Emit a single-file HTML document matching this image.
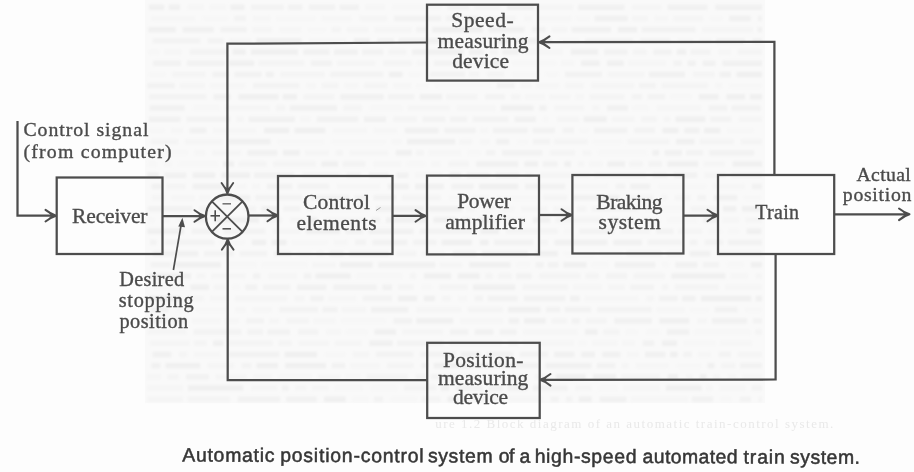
<!DOCTYPE html>
<html><head><meta charset="utf-8"><style>
html,body{margin:0;padding:0;background:#fdfdfd;width:914px;height:472px;overflow:hidden}
svg{position:absolute;left:0;top:0;display:block;filter:blur(0.6px)}
</style></head><body>
<svg width="914" height="472" viewBox="0 0 914 472">
<rect x="0" y="0" width="914" height="472" fill="#fdfdfd"/>
<rect x="145" y="0" width="620" height="403" fill="#f9f9f9"/>
<defs><filter id="bb" x="-5%" y="-5%" width="110%" height="110%"><feGaussianBlur stdDeviation="1.3"/></filter></defs><g filter="url(#bb)"><rect x="148.9" y="4.5" width="15.3" height="5.5" fill="rgb(240,240,240)"/><rect x="168.6" y="4.5" width="11.4" height="5.5" fill="rgb(240,240,240)"/><rect x="187.6" y="4.5" width="16.3" height="5.5" fill="rgb(246,246,246)"/><rect x="209.5" y="4.5" width="16.7" height="5.5" fill="rgb(246,246,246)"/><rect x="230.5" y="4.5" width="14.1" height="5.5" fill="rgb(240,240,240)"/><rect x="250.9" y="4.5" width="32.8" height="5.5" fill="rgb(243,243,243)"/><rect x="287.9" y="4.5" width="14.7" height="5.5" fill="rgb(242,242,242)"/><rect x="308.7" y="4.5" width="26.6" height="5.5" fill="rgb(242,242,242)"/><rect x="339.8" y="4.5" width="19.0" height="5.5" fill="rgb(241,241,241)"/><rect x="365.0" y="4.5" width="20.0" height="5.5" fill="rgb(246,246,246)"/><rect x="392.1" y="4.5" width="49.6" height="5.5" fill="rgb(247,247,247)"/><rect x="447.2" y="4.5" width="22.4" height="5.5" fill="rgb(243,243,243)"/><rect x="473.9" y="4.5" width="26.3" height="5.5" fill="rgb(245,245,245)"/><rect x="507.0" y="4.5" width="27.1" height="5.5" fill="rgb(241,241,241)"/><rect x="538.7" y="4.5" width="34.6" height="5.5" fill="rgb(245,245,245)"/><rect x="577.9" y="4.5" width="46.5" height="5.5" fill="rgb(241,241,241)"/><rect x="631.5" y="4.5" width="30.0" height="5.5" fill="rgb(245,245,245)"/><rect x="667.8" y="4.5" width="39.7" height="5.5" fill="rgb(241,241,241)"/><rect x="715.3" y="4.5" width="46.7" height="5.5" fill="rgb(241,241,241)"/><rect x="151.2" y="15.7" width="43.9" height="5.5" fill="rgb(246,246,246)"/><rect x="202.6" y="15.7" width="25.9" height="5.5" fill="rgb(247,247,247)"/><rect x="233.9" y="15.7" width="12.0" height="5.5" fill="rgb(243,243,243)"/><rect x="253.0" y="15.7" width="17.5" height="5.5" fill="rgb(246,246,246)"/><rect x="276.1" y="15.7" width="39.9" height="5.5" fill="rgb(247,247,247)"/><rect x="321.6" y="15.7" width="30.0" height="5.5" fill="rgb(246,246,246)"/><rect x="359.1" y="15.7" width="28.1" height="5.5" fill="rgb(245,245,245)"/><rect x="393.9" y="15.7" width="47.3" height="5.5" fill="rgb(242,242,242)"/><rect x="445.6" y="15.7" width="14.3" height="5.5" fill="rgb(243,243,243)"/><rect x="463.9" y="15.7" width="14.5" height="5.5" fill="rgb(240,240,240)"/><rect x="483.0" y="15.7" width="33.4" height="5.5" fill="rgb(245,245,245)"/><rect x="524.2" y="15.7" width="7.9" height="5.5" fill="rgb(246,246,246)"/><rect x="537.7" y="15.7" width="33.7" height="5.5" fill="rgb(246,246,246)"/><rect x="575.6" y="15.7" width="14.3" height="5.5" fill="rgb(247,247,247)"/><rect x="594.5" y="15.7" width="33.3" height="5.5" fill="rgb(241,241,241)"/><rect x="631.8" y="15.7" width="16.2" height="5.5" fill="rgb(245,245,245)"/><rect x="654.5" y="15.7" width="13.8" height="5.5" fill="rgb(246,246,246)"/><rect x="672.9" y="15.7" width="30.7" height="5.5" fill="rgb(245,245,245)"/><rect x="709.5" y="15.7" width="13.7" height="5.5" fill="rgb(247,247,247)"/><rect x="729.1" y="15.7" width="21.7" height="5.5" fill="rgb(241,241,241)"/><rect x="757.8" y="15.7" width="4.2" height="5.5" fill="rgb(242,242,242)"/><rect x="148.2" y="26.9" width="27.5" height="5.5" fill="rgb(240,240,240)"/><rect x="182.7" y="26.9" width="31.0" height="5.5" fill="rgb(241,241,241)"/><rect x="220.5" y="26.9" width="26.2" height="5.5" fill="rgb(242,242,242)"/><rect x="252.1" y="26.9" width="20.3" height="5.5" fill="rgb(245,245,245)"/><rect x="278.9" y="26.9" width="22.4" height="5.5" fill="rgb(246,246,246)"/><rect x="308.3" y="26.9" width="17.6" height="5.5" fill="rgb(247,247,247)"/><rect x="331.4" y="26.9" width="9.6" height="5.5" fill="rgb(244,244,244)"/><rect x="346.8" y="26.9" width="21.5" height="5.5" fill="rgb(245,245,245)"/><rect x="374.1" y="26.9" width="37.8" height="5.5" fill="rgb(245,245,245)"/><rect x="416.3" y="26.9" width="10.7" height="5.5" fill="rgb(243,243,243)"/><rect x="432.3" y="26.9" width="50.4" height="5.5" fill="rgb(240,240,240)"/><rect x="488.6" y="26.9" width="35.8" height="5.5" fill="rgb(241,241,241)"/><rect x="531.8" y="26.9" width="14.0" height="5.5" fill="rgb(243,243,243)"/><rect x="551.7" y="26.9" width="15.6" height="5.5" fill="rgb(245,245,245)"/><rect x="571.6" y="26.9" width="39.4" height="5.5" fill="rgb(241,241,241)"/><rect x="617.9" y="26.9" width="19.2" height="5.5" fill="rgb(240,240,240)"/><rect x="641.7" y="26.9" width="53.9" height="5.5" fill="rgb(242,242,242)"/><rect x="702.0" y="26.9" width="51.0" height="5.5" fill="rgb(245,245,245)"/><rect x="757.6" y="26.9" width="4.4" height="5.5" fill="rgb(241,241,241)"/><rect x="152.6" y="38.1" width="47.8" height="5.5" fill="rgb(243,243,243)"/><rect x="207.7" y="38.1" width="16.2" height="5.5" fill="rgb(243,243,243)"/><rect x="229.1" y="38.1" width="22.1" height="5.5" fill="rgb(245,245,245)"/><rect x="256.2" y="38.1" width="45.3" height="5.5" fill="rgb(240,240,240)"/><rect x="309.2" y="38.1" width="37.1" height="5.5" fill="rgb(246,246,246)"/><rect x="353.6" y="38.1" width="16.2" height="5.5" fill="rgb(240,240,240)"/><rect x="377.3" y="38.1" width="16.7" height="5.5" fill="rgb(242,242,242)"/><rect x="398.7" y="38.1" width="50.3" height="5.5" fill="rgb(241,241,241)"/><rect x="455.2" y="38.1" width="34.3" height="5.5" fill="rgb(247,247,247)"/><rect x="496.7" y="38.1" width="13.8" height="5.5" fill="rgb(240,240,240)"/><rect x="515.5" y="38.1" width="21.2" height="5.5" fill="rgb(241,241,241)"/><rect x="542.8" y="38.1" width="8.8" height="5.5" fill="rgb(241,241,241)"/><rect x="557.4" y="38.1" width="21.5" height="5.5" fill="rgb(247,247,247)"/><rect x="585.0" y="38.1" width="48.1" height="5.5" fill="rgb(243,243,243)"/><rect x="639.9" y="38.1" width="30.4" height="5.5" fill="rgb(243,243,243)"/><rect x="677.7" y="38.1" width="15.5" height="5.5" fill="rgb(246,246,246)"/><rect x="698.9" y="38.1" width="12.8" height="5.5" fill="rgb(246,246,246)"/><rect x="716.0" y="38.1" width="29.0" height="5.5" fill="rgb(242,242,242)"/><rect x="752.7" y="38.1" width="9.3" height="5.5" fill="rgb(242,242,242)"/><rect x="148.3" y="49.3" width="11.5" height="5.5" fill="rgb(247,247,247)"/><rect x="164.5" y="49.3" width="17.3" height="5.5" fill="rgb(246,246,246)"/><rect x="189.7" y="49.3" width="37.4" height="5.5" fill="rgb(243,243,243)"/><rect x="232.6" y="49.3" width="13.1" height="5.5" fill="rgb(240,240,240)"/><rect x="251.0" y="49.3" width="46.9" height="5.5" fill="rgb(240,240,240)"/><rect x="303.4" y="49.3" width="26.1" height="5.5" fill="rgb(241,241,241)"/><rect x="334.0" y="49.3" width="23.8" height="5.5" fill="rgb(241,241,241)"/><rect x="362.1" y="49.3" width="21.2" height="5.5" fill="rgb(242,242,242)"/><rect x="388.4" y="49.3" width="18.0" height="5.5" fill="rgb(244,244,244)"/><rect x="412.1" y="49.3" width="51.8" height="5.5" fill="rgb(241,241,241)"/><rect x="469.0" y="49.3" width="15.5" height="5.5" fill="rgb(241,241,241)"/><rect x="489.6" y="49.3" width="8.4" height="5.5" fill="rgb(244,244,244)"/><rect x="502.4" y="49.3" width="16.5" height="5.5" fill="rgb(241,241,241)"/><rect x="524.7" y="49.3" width="38.3" height="5.5" fill="rgb(246,246,246)"/><rect x="570.8" y="49.3" width="27.3" height="5.5" fill="rgb(240,240,240)"/><rect x="604.1" y="49.3" width="23.5" height="5.5" fill="rgb(242,242,242)"/><rect x="632.7" y="49.3" width="14.1" height="5.5" fill="rgb(244,244,244)"/><rect x="653.3" y="49.3" width="18.3" height="5.5" fill="rgb(242,242,242)"/><rect x="676.7" y="49.3" width="9.6" height="5.5" fill="rgb(240,240,240)"/><rect x="690.4" y="49.3" width="20.1" height="5.5" fill="rgb(243,243,243)"/><rect x="718.2" y="49.3" width="12.8" height="5.5" fill="rgb(246,246,246)"/><rect x="737.6" y="49.3" width="24.4" height="5.5" fill="rgb(244,244,244)"/><rect x="152.9" y="60.5" width="28.1" height="5.5" fill="rgb(242,242,242)"/><rect x="186.7" y="60.5" width="38.2" height="5.5" fill="rgb(242,242,242)"/><rect x="228.9" y="60.5" width="25.3" height="5.5" fill="rgb(240,240,240)"/><rect x="258.5" y="60.5" width="45.9" height="5.5" fill="rgb(244,244,244)"/><rect x="310.8" y="60.5" width="21.3" height="5.5" fill="rgb(242,242,242)"/><rect x="336.7" y="60.5" width="38.5" height="5.5" fill="rgb(245,245,245)"/><rect x="383.0" y="60.5" width="28.7" height="5.5" fill="rgb(244,244,244)"/><rect x="416.6" y="60.5" width="12.8" height="5.5" fill="rgb(246,246,246)"/><rect x="433.8" y="60.5" width="26.0" height="5.5" fill="rgb(243,243,243)"/><rect x="464.8" y="60.5" width="6.7" height="5.5" fill="rgb(241,241,241)"/><rect x="476.1" y="60.5" width="7.7" height="5.5" fill="rgb(244,244,244)"/><rect x="488.9" y="60.5" width="16.7" height="5.5" fill="rgb(242,242,242)"/><rect x="512.3" y="60.5" width="44.2" height="5.5" fill="rgb(247,247,247)"/><rect x="561.1" y="60.5" width="13.1" height="5.5" fill="rgb(246,246,246)"/><rect x="581.1" y="60.5" width="18.6" height="5.5" fill="rgb(240,240,240)"/><rect x="607.0" y="60.5" width="16.7" height="5.5" fill="rgb(240,240,240)"/><rect x="628.2" y="60.5" width="37.9" height="5.5" fill="rgb(246,246,246)"/><rect x="673.5" y="60.5" width="8.4" height="5.5" fill="rgb(243,243,243)"/><rect x="687.8" y="60.5" width="7.9" height="5.5" fill="rgb(241,241,241)"/><rect x="702.7" y="60.5" width="12.8" height="5.5" fill="rgb(241,241,241)"/><rect x="722.4" y="60.5" width="39.6" height="5.5" fill="rgb(241,241,241)"/><rect x="148.4" y="71.7" width="17.8" height="5.5" fill="rgb(247,247,247)"/><rect x="172.2" y="71.7" width="33.2" height="5.5" fill="rgb(244,244,244)"/><rect x="212.5" y="71.7" width="16.6" height="5.5" fill="rgb(242,242,242)"/><rect x="234.5" y="71.7" width="27.3" height="5.5" fill="rgb(242,242,242)"/><rect x="265.8" y="71.7" width="8.0" height="5.5" fill="rgb(241,241,241)"/><rect x="280.5" y="71.7" width="44.0" height="5.5" fill="rgb(244,244,244)"/><rect x="330.3" y="71.7" width="53.1" height="5.5" fill="rgb(243,243,243)"/><rect x="388.7" y="71.7" width="14.1" height="5.5" fill="rgb(240,240,240)"/><rect x="408.0" y="71.7" width="13.5" height="5.5" fill="rgb(247,247,247)"/><rect x="429.5" y="71.7" width="35.4" height="5.5" fill="rgb(243,243,243)"/><rect x="469.1" y="71.7" width="10.3" height="5.5" fill="rgb(244,244,244)"/><rect x="487.2" y="71.7" width="16.7" height="5.5" fill="rgb(244,244,244)"/><rect x="511.4" y="71.7" width="28.6" height="5.5" fill="rgb(247,247,247)"/><rect x="545.6" y="71.7" width="12.8" height="5.5" fill="rgb(247,247,247)"/><rect x="565.1" y="71.7" width="36.8" height="5.5" fill="rgb(242,242,242)"/><rect x="607.6" y="71.7" width="37.1" height="5.5" fill="rgb(245,245,245)"/><rect x="648.7" y="71.7" width="36.3" height="5.5" fill="rgb(241,241,241)"/><rect x="692.8" y="71.7" width="21.7" height="5.5" fill="rgb(244,244,244)"/><rect x="719.5" y="71.7" width="11.5" height="5.5" fill="rgb(241,241,241)"/><rect x="736.4" y="71.7" width="25.6" height="5.5" fill="rgb(240,240,240)"/><rect x="147.3" y="82.9" width="27.4" height="5.5" fill="rgb(242,242,242)"/><rect x="179.7" y="82.9" width="25.3" height="5.5" fill="rgb(245,245,245)"/><rect x="209.8" y="82.9" width="35.6" height="5.5" fill="rgb(246,246,246)"/><rect x="253.0" y="82.9" width="46.6" height="5.5" fill="rgb(243,243,243)"/><rect x="306.5" y="82.9" width="9.4" height="5.5" fill="rgb(246,246,246)"/><rect x="321.7" y="82.9" width="16.9" height="5.5" fill="rgb(244,244,244)"/><rect x="344.5" y="82.9" width="13.9" height="5.5" fill="rgb(246,246,246)"/><rect x="363.8" y="82.9" width="23.5" height="5.5" fill="rgb(244,244,244)"/><rect x="392.9" y="82.9" width="18.4" height="5.5" fill="rgb(246,246,246)"/><rect x="415.8" y="82.9" width="13.3" height="5.5" fill="rgb(247,247,247)"/><rect x="435.3" y="82.9" width="55.8" height="5.5" fill="rgb(247,247,247)"/><rect x="496.8" y="82.9" width="18.0" height="5.5" fill="rgb(242,242,242)"/><rect x="520.1" y="82.9" width="11.1" height="5.5" fill="rgb(245,245,245)"/><rect x="536.3" y="82.9" width="23.1" height="5.5" fill="rgb(246,246,246)"/><rect x="564.9" y="82.9" width="19.0" height="5.5" fill="rgb(245,245,245)"/><rect x="590.9" y="82.9" width="43.7" height="5.5" fill="rgb(245,245,245)"/><rect x="639.1" y="82.9" width="16.7" height="5.5" fill="rgb(243,243,243)"/><rect x="661.4" y="82.9" width="46.7" height="5.5" fill="rgb(244,244,244)"/><rect x="715.5" y="82.9" width="6.8" height="5.5" fill="rgb(246,246,246)"/><rect x="729.2" y="82.9" width="32.8" height="5.5" fill="rgb(247,247,247)"/><rect x="149.3" y="94.1" width="57.1" height="5.5" fill="rgb(243,243,243)"/><rect x="213.5" y="94.1" width="17.2" height="5.5" fill="rgb(241,241,241)"/><rect x="238.5" y="94.1" width="40.0" height="5.5" fill="rgb(240,240,240)"/><rect x="282.6" y="94.1" width="14.3" height="5.5" fill="rgb(240,240,240)"/><rect x="303.5" y="94.1" width="30.8" height="5.5" fill="rgb(244,244,244)"/><rect x="340.4" y="94.1" width="43.2" height="5.5" fill="rgb(241,241,241)"/><rect x="388.0" y="94.1" width="26.3" height="5.5" fill="rgb(243,243,243)"/><rect x="419.8" y="94.1" width="22.3" height="5.5" fill="rgb(240,240,240)"/><rect x="446.1" y="94.1" width="31.2" height="5.5" fill="rgb(244,244,244)"/><rect x="485.1" y="94.1" width="19.8" height="5.5" fill="rgb(243,243,243)"/><rect x="511.1" y="94.1" width="9.5" height="5.5" fill="rgb(244,244,244)"/><rect x="524.8" y="94.1" width="20.0" height="5.5" fill="rgb(246,246,246)"/><rect x="549.1" y="94.1" width="21.3" height="5.5" fill="rgb(245,245,245)"/><rect x="575.4" y="94.1" width="8.6" height="5.5" fill="rgb(246,246,246)"/><rect x="589.4" y="94.1" width="35.2" height="5.5" fill="rgb(244,244,244)"/><rect x="631.6" y="94.1" width="10.6" height="5.5" fill="rgb(243,243,243)"/><rect x="647.4" y="94.1" width="17.8" height="5.5" fill="rgb(243,243,243)"/><rect x="670.3" y="94.1" width="21.9" height="5.5" fill="rgb(247,247,247)"/><rect x="698.7" y="94.1" width="19.9" height="5.5" fill="rgb(240,240,240)"/><rect x="726.4" y="94.1" width="18.7" height="5.5" fill="rgb(240,240,240)"/><rect x="749.9" y="94.1" width="12.1" height="5.5" fill="rgb(240,240,240)"/><rect x="149.7" y="105.3" width="35.0" height="5.5" fill="rgb(241,241,241)"/><rect x="192.4" y="105.3" width="28.0" height="5.5" fill="rgb(247,247,247)"/><rect x="224.6" y="105.3" width="45.4" height="5.5" fill="rgb(245,245,245)"/><rect x="275.8" y="105.3" width="9.6" height="5.5" fill="rgb(244,244,244)"/><rect x="289.7" y="105.3" width="47.3" height="5.5" fill="rgb(241,241,241)"/><rect x="343.2" y="105.3" width="19.0" height="5.5" fill="rgb(244,244,244)"/><rect x="369.6" y="105.3" width="33.4" height="5.5" fill="rgb(247,247,247)"/><rect x="407.8" y="105.3" width="42.1" height="5.5" fill="rgb(245,245,245)"/><rect x="456.8" y="105.3" width="39.0" height="5.5" fill="rgb(246,246,246)"/><rect x="500.8" y="105.3" width="32.7" height="5.5" fill="rgb(240,240,240)"/><rect x="539.3" y="105.3" width="7.2" height="5.5" fill="rgb(241,241,241)"/><rect x="554.1" y="105.3" width="30.2" height="5.5" fill="rgb(245,245,245)"/><rect x="592.2" y="105.3" width="7.2" height="5.5" fill="rgb(245,245,245)"/><rect x="607.1" y="105.3" width="20.8" height="5.5" fill="rgb(241,241,241)"/><rect x="632.1" y="105.3" width="16.9" height="5.5" fill="rgb(247,247,247)"/><rect x="656.7" y="105.3" width="44.6" height="5.5" fill="rgb(246,246,246)"/><rect x="708.6" y="105.3" width="18.7" height="5.5" fill="rgb(242,242,242)"/><rect x="731.4" y="105.3" width="29.4" height="5.5" fill="rgb(242,242,242)"/><rect x="149.0" y="116.5" width="31.5" height="5.5" fill="rgb(241,241,241)"/><rect x="186.5" y="116.5" width="44.0" height="5.5" fill="rgb(243,243,243)"/><rect x="236.2" y="116.5" width="7.9" height="5.5" fill="rgb(245,245,245)"/><rect x="248.8" y="116.5" width="46.1" height="5.5" fill="rgb(241,241,241)"/><rect x="300.0" y="116.5" width="10.6" height="5.5" fill="rgb(246,246,246)"/><rect x="316.6" y="116.5" width="41.7" height="5.5" fill="rgb(242,242,242)"/><rect x="364.0" y="116.5" width="22.0" height="5.5" fill="rgb(241,241,241)"/><rect x="393.1" y="116.5" width="23.9" height="5.5" fill="rgb(244,244,244)"/><rect x="422.4" y="116.5" width="22.9" height="5.5" fill="rgb(243,243,243)"/><rect x="450.0" y="116.5" width="17.2" height="5.5" fill="rgb(243,243,243)"/><rect x="472.6" y="116.5" width="36.0" height="5.5" fill="rgb(243,243,243)"/><rect x="514.6" y="116.5" width="21.2" height="5.5" fill="rgb(241,241,241)"/><rect x="542.4" y="116.5" width="6.7" height="5.5" fill="rgb(247,247,247)"/><rect x="556.7" y="116.5" width="22.7" height="5.5" fill="rgb(245,245,245)"/><rect x="583.6" y="116.5" width="23.2" height="5.5" fill="rgb(240,240,240)"/><rect x="611.5" y="116.5" width="23.4" height="5.5" fill="rgb(245,245,245)"/><rect x="641.0" y="116.5" width="15.7" height="5.5" fill="rgb(244,244,244)"/><rect x="663.8" y="116.5" width="6.7" height="5.5" fill="rgb(245,245,245)"/><rect x="675.4" y="116.5" width="30.0" height="5.5" fill="rgb(240,240,240)"/><rect x="710.2" y="116.5" width="21.2" height="5.5" fill="rgb(243,243,243)"/><rect x="738.6" y="116.5" width="23.4" height="5.5" fill="rgb(245,245,245)"/><rect x="148.9" y="127.7" width="16.3" height="5.5" fill="rgb(247,247,247)"/><rect x="171.3" y="127.7" width="11.6" height="5.5" fill="rgb(246,246,246)"/><rect x="189.5" y="127.7" width="16.9" height="5.5" fill="rgb(241,241,241)"/><rect x="213.0" y="127.7" width="43.1" height="5.5" fill="rgb(246,246,246)"/><rect x="264.1" y="127.7" width="25.1" height="5.5" fill="rgb(240,240,240)"/><rect x="294.5" y="127.7" width="30.9" height="5.5" fill="rgb(240,240,240)"/><rect x="332.9" y="127.7" width="33.8" height="5.5" fill="rgb(246,246,246)"/><rect x="373.6" y="127.7" width="23.5" height="5.5" fill="rgb(246,246,246)"/><rect x="404.8" y="127.7" width="33.8" height="5.5" fill="rgb(241,241,241)"/><rect x="444.2" y="127.7" width="31.5" height="5.5" fill="rgb(242,242,242)"/><rect x="480.2" y="127.7" width="8.2" height="5.5" fill="rgb(246,246,246)"/><rect x="492.8" y="127.7" width="35.0" height="5.5" fill="rgb(242,242,242)"/><rect x="532.4" y="127.7" width="22.5" height="5.5" fill="rgb(242,242,242)"/><rect x="562.6" y="127.7" width="11.4" height="5.5" fill="rgb(243,243,243)"/><rect x="579.2" y="127.7" width="9.5" height="5.5" fill="rgb(247,247,247)"/><rect x="594.0" y="127.7" width="33.4" height="5.5" fill="rgb(242,242,242)"/><rect x="633.9" y="127.7" width="21.0" height="5.5" fill="rgb(243,243,243)"/><rect x="662.2" y="127.7" width="16.4" height="5.5" fill="rgb(240,240,240)"/><rect x="684.2" y="127.7" width="15.3" height="5.5" fill="rgb(241,241,241)"/><rect x="704.1" y="127.7" width="16.3" height="5.5" fill="rgb(240,240,240)"/><rect x="727.1" y="127.7" width="27.1" height="5.5" fill="rgb(247,247,247)"/><rect x="150.8" y="138.9" width="27.5" height="5.5" fill="rgb(244,244,244)"/><rect x="184.6" y="138.9" width="38.2" height="5.5" fill="rgb(245,245,245)"/><rect x="228.7" y="138.9" width="41.8" height="5.5" fill="rgb(240,240,240)"/><rect x="277.0" y="138.9" width="47.3" height="5.5" fill="rgb(247,247,247)"/><rect x="331.4" y="138.9" width="54.5" height="5.5" fill="rgb(247,247,247)"/><rect x="391.4" y="138.9" width="10.2" height="5.5" fill="rgb(246,246,246)"/><rect x="407.1" y="138.9" width="48.1" height="5.5" fill="rgb(240,240,240)"/><rect x="459.3" y="138.9" width="13.3" height="5.5" fill="rgb(245,245,245)"/><rect x="479.8" y="138.9" width="9.9" height="5.5" fill="rgb(246,246,246)"/><rect x="496.2" y="138.9" width="13.0" height="5.5" fill="rgb(241,241,241)"/><rect x="517.2" y="138.9" width="10.5" height="5.5" fill="rgb(247,247,247)"/><rect x="532.9" y="138.9" width="17.2" height="5.5" fill="rgb(243,243,243)"/><rect x="554.3" y="138.9" width="33.4" height="5.5" fill="rgb(244,244,244)"/><rect x="592.4" y="138.9" width="30.2" height="5.5" fill="rgb(247,247,247)"/><rect x="627.2" y="138.9" width="42.4" height="5.5" fill="rgb(244,244,244)"/><rect x="676.0" y="138.9" width="18.6" height="5.5" fill="rgb(240,240,240)"/><rect x="699.4" y="138.9" width="34.6" height="5.5" fill="rgb(244,244,244)"/><rect x="740.7" y="138.9" width="21.3" height="5.5" fill="rgb(244,244,244)"/><rect x="150.2" y="150.1" width="38.0" height="5.5" fill="rgb(247,247,247)"/><rect x="194.4" y="150.1" width="10.8" height="5.5" fill="rgb(246,246,246)"/><rect x="212.1" y="150.1" width="29.0" height="5.5" fill="rgb(245,245,245)"/><rect x="247.4" y="150.1" width="29.8" height="5.5" fill="rgb(241,241,241)"/><rect x="283.0" y="150.1" width="16.7" height="5.5" fill="rgb(240,240,240)"/><rect x="305.0" y="150.1" width="24.0" height="5.5" fill="rgb(245,245,245)"/><rect x="335.9" y="150.1" width="7.1" height="5.5" fill="rgb(244,244,244)"/><rect x="349.5" y="150.1" width="38.7" height="5.5" fill="rgb(245,245,245)"/><rect x="395.8" y="150.1" width="15.9" height="5.5" fill="rgb(240,240,240)"/><rect x="415.8" y="150.1" width="8.2" height="5.5" fill="rgb(244,244,244)"/><rect x="428.4" y="150.1" width="32.4" height="5.5" fill="rgb(246,246,246)"/><rect x="467.2" y="150.1" width="14.1" height="5.5" fill="rgb(247,247,247)"/><rect x="485.9" y="150.1" width="9.4" height="5.5" fill="rgb(243,243,243)"/><rect x="502.1" y="150.1" width="40.2" height="5.5" fill="rgb(242,242,242)"/><rect x="549.9" y="150.1" width="25.0" height="5.5" fill="rgb(244,244,244)"/><rect x="582.7" y="150.1" width="8.5" height="5.5" fill="rgb(245,245,245)"/><rect x="597.6" y="150.1" width="50.0" height="5.5" fill="rgb(247,247,247)"/><rect x="652.5" y="150.1" width="6.5" height="5.5" fill="rgb(240,240,240)"/><rect x="664.7" y="150.1" width="17.3" height="5.5" fill="rgb(241,241,241)"/><rect x="686.0" y="150.1" width="17.1" height="5.5" fill="rgb(243,243,243)"/><rect x="709.2" y="150.1" width="45.0" height="5.5" fill="rgb(242,242,242)"/><rect x="147.4" y="161.3" width="9.6" height="5.5" fill="rgb(247,247,247)"/><rect x="163.8" y="161.3" width="7.6" height="5.5" fill="rgb(246,246,246)"/><rect x="178.4" y="161.3" width="39.9" height="5.5" fill="rgb(247,247,247)"/><rect x="223.1" y="161.3" width="10.9" height="5.5" fill="rgb(240,240,240)"/><rect x="238.4" y="161.3" width="28.2" height="5.5" fill="rgb(244,244,244)"/><rect x="273.1" y="161.3" width="43.0" height="5.5" fill="rgb(244,244,244)"/><rect x="321.3" y="161.3" width="16.7" height="5.5" fill="rgb(240,240,240)"/><rect x="342.7" y="161.3" width="22.7" height="5.5" fill="rgb(243,243,243)"/><rect x="373.2" y="161.3" width="28.1" height="5.5" fill="rgb(246,246,246)"/><rect x="406.5" y="161.3" width="19.0" height="5.5" fill="rgb(247,247,247)"/><rect x="431.5" y="161.3" width="9.1" height="5.5" fill="rgb(246,246,246)"/><rect x="448.4" y="161.3" width="20.6" height="5.5" fill="rgb(244,244,244)"/><rect x="476.2" y="161.3" width="42.0" height="5.5" fill="rgb(241,241,241)"/><rect x="524.4" y="161.3" width="13.7" height="5.5" fill="rgb(240,240,240)"/><rect x="542.6" y="161.3" width="15.0" height="5.5" fill="rgb(242,242,242)"/><rect x="564.4" y="161.3" width="6.5" height="5.5" fill="rgb(240,240,240)"/><rect x="577.7" y="161.3" width="6.6" height="5.5" fill="rgb(245,245,245)"/><rect x="589.1" y="161.3" width="13.8" height="5.5" fill="rgb(246,246,246)"/><rect x="607.3" y="161.3" width="17.6" height="5.5" fill="rgb(240,240,240)"/><rect x="629.1" y="161.3" width="13.6" height="5.5" fill="rgb(244,244,244)"/><rect x="648.6" y="161.3" width="13.4" height="5.5" fill="rgb(243,243,243)"/><rect x="667.2" y="161.3" width="31.0" height="5.5" fill="rgb(240,240,240)"/><rect x="703.6" y="161.3" width="21.3" height="5.5" fill="rgb(245,245,245)"/><rect x="732.6" y="161.3" width="29.4" height="5.5" fill="rgb(240,240,240)"/><rect x="147.2" y="172.5" width="11.3" height="5.5" fill="rgb(240,240,240)"/><rect x="164.6" y="172.5" width="21.7" height="5.5" fill="rgb(241,241,241)"/><rect x="192.6" y="172.5" width="22.6" height="5.5" fill="rgb(240,240,240)"/><rect x="221.3" y="172.5" width="28.7" height="5.5" fill="rgb(240,240,240)"/><rect x="254.0" y="172.5" width="40.2" height="5.5" fill="rgb(242,242,242)"/><rect x="302.1" y="172.5" width="37.9" height="5.5" fill="rgb(244,244,244)"/><rect x="346.3" y="172.5" width="14.6" height="5.5" fill="rgb(243,243,243)"/><rect x="368.7" y="172.5" width="20.0" height="5.5" fill="rgb(241,241,241)"/><rect x="396.4" y="172.5" width="12.0" height="5.5" fill="rgb(241,241,241)"/><rect x="414.9" y="172.5" width="26.8" height="5.5" fill="rgb(246,246,246)"/><rect x="449.3" y="172.5" width="11.6" height="5.5" fill="rgb(240,240,240)"/><rect x="466.4" y="172.5" width="23.5" height="5.5" fill="rgb(242,242,242)"/><rect x="495.4" y="172.5" width="23.6" height="5.5" fill="rgb(242,242,242)"/><rect x="525.1" y="172.5" width="7.5" height="5.5" fill="rgb(245,245,245)"/><rect x="538.7" y="172.5" width="51.1" height="5.5" fill="rgb(245,245,245)"/><rect x="594.5" y="172.5" width="51.6" height="5.5" fill="rgb(244,244,244)"/><rect x="652.4" y="172.5" width="14.9" height="5.5" fill="rgb(243,243,243)"/><rect x="673.4" y="172.5" width="23.9" height="5.5" fill="rgb(242,242,242)"/><rect x="704.2" y="172.5" width="21.8" height="5.5" fill="rgb(245,245,245)"/><rect x="730.7" y="172.5" width="31.3" height="5.5" fill="rgb(244,244,244)"/><rect x="151.4" y="183.7" width="10.4" height="5.5" fill="rgb(241,241,241)"/><rect x="166.5" y="183.7" width="19.1" height="5.5" fill="rgb(244,244,244)"/><rect x="192.6" y="183.7" width="36.4" height="5.5" fill="rgb(241,241,241)"/><rect x="235.5" y="183.7" width="10.9" height="5.5" fill="rgb(246,246,246)"/><rect x="252.3" y="183.7" width="7.7" height="5.5" fill="rgb(246,246,246)"/><rect x="266.8" y="183.7" width="25.6" height="5.5" fill="rgb(242,242,242)"/><rect x="297.4" y="183.7" width="32.1" height="5.5" fill="rgb(243,243,243)"/><rect x="337.1" y="183.7" width="43.2" height="5.5" fill="rgb(246,246,246)"/><rect x="387.7" y="183.7" width="21.4" height="5.5" fill="rgb(241,241,241)"/><rect x="415.0" y="183.7" width="28.9" height="5.5" fill="rgb(241,241,241)"/><rect x="451.5" y="183.7" width="22.3" height="5.5" fill="rgb(242,242,242)"/><rect x="478.7" y="183.7" width="39.7" height="5.5" fill="rgb(240,240,240)"/><rect x="525.0" y="183.7" width="40.3" height="5.5" fill="rgb(242,242,242)"/><rect x="572.8" y="183.7" width="35.6" height="5.5" fill="rgb(246,246,246)"/><rect x="615.7" y="183.7" width="9.8" height="5.5" fill="rgb(243,243,243)"/><rect x="630.1" y="183.7" width="20.2" height="5.5" fill="rgb(241,241,241)"/><rect x="657.7" y="183.7" width="48.8" height="5.5" fill="rgb(247,247,247)"/><rect x="712.5" y="183.7" width="32.3" height="5.5" fill="rgb(246,246,246)"/><rect x="751.8" y="183.7" width="10.2" height="5.5" fill="rgb(242,242,242)"/><rect x="151.6" y="194.9" width="13.1" height="5.5" fill="rgb(245,245,245)"/><rect x="171.2" y="194.9" width="23.7" height="5.5" fill="rgb(246,246,246)"/><rect x="199.1" y="194.9" width="11.6" height="5.5" fill="rgb(246,246,246)"/><rect x="217.2" y="194.9" width="33.0" height="5.5" fill="rgb(241,241,241)"/><rect x="255.2" y="194.9" width="47.0" height="5.5" fill="rgb(243,243,243)"/><rect x="310.2" y="194.9" width="39.4" height="5.5" fill="rgb(242,242,242)"/><rect x="354.1" y="194.9" width="13.5" height="5.5" fill="rgb(243,243,243)"/><rect x="373.5" y="194.9" width="22.5" height="5.5" fill="rgb(242,242,242)"/><rect x="401.4" y="194.9" width="39.5" height="5.5" fill="rgb(244,244,244)"/><rect x="447.9" y="194.9" width="17.8" height="5.5" fill="rgb(247,247,247)"/><rect x="471.1" y="194.9" width="18.1" height="5.5" fill="rgb(246,246,246)"/><rect x="496.0" y="194.9" width="42.9" height="5.5" fill="rgb(247,247,247)"/><rect x="542.9" y="194.9" width="24.5" height="5.5" fill="rgb(244,244,244)"/><rect x="572.7" y="194.9" width="46.6" height="5.5" fill="rgb(241,241,241)"/><rect x="626.0" y="194.9" width="27.6" height="5.5" fill="rgb(244,244,244)"/><rect x="660.9" y="194.9" width="6.7" height="5.5" fill="rgb(245,245,245)"/><rect x="674.7" y="194.9" width="16.2" height="5.5" fill="rgb(245,245,245)"/><rect x="697.5" y="194.9" width="8.5" height="5.5" fill="rgb(243,243,243)"/><rect x="713.8" y="194.9" width="23.4" height="5.5" fill="rgb(241,241,241)"/><rect x="743.5" y="194.9" width="17.5" height="5.5" fill="rgb(247,247,247)"/><rect x="147.9" y="206.1" width="44.7" height="5.5" fill="rgb(242,242,242)"/><rect x="199.0" y="206.1" width="12.8" height="5.5" fill="rgb(244,244,244)"/><rect x="216.6" y="206.1" width="20.2" height="5.5" fill="rgb(247,247,247)"/><rect x="243.6" y="206.1" width="12.3" height="5.5" fill="rgb(244,244,244)"/><rect x="261.5" y="206.1" width="15.8" height="5.5" fill="rgb(240,240,240)"/><rect x="283.3" y="206.1" width="17.3" height="5.5" fill="rgb(243,243,243)"/><rect x="306.5" y="206.1" width="6.9" height="5.5" fill="rgb(245,245,245)"/><rect x="319.3" y="206.1" width="51.2" height="5.5" fill="rgb(247,247,247)"/><rect x="376.0" y="206.1" width="48.0" height="5.5" fill="rgb(241,241,241)"/><rect x="428.7" y="206.1" width="33.7" height="5.5" fill="rgb(240,240,240)"/><rect x="466.5" y="206.1" width="8.6" height="5.5" fill="rgb(245,245,245)"/><rect x="482.4" y="206.1" width="12.1" height="5.5" fill="rgb(247,247,247)"/><rect x="501.4" y="206.1" width="13.0" height="5.5" fill="rgb(246,246,246)"/><rect x="521.0" y="206.1" width="26.8" height="5.5" fill="rgb(245,245,245)"/><rect x="553.1" y="206.1" width="18.3" height="5.5" fill="rgb(245,245,245)"/><rect x="577.1" y="206.1" width="9.0" height="5.5" fill="rgb(244,244,244)"/><rect x="591.6" y="206.1" width="46.2" height="5.5" fill="rgb(244,244,244)"/><rect x="645.2" y="206.1" width="38.1" height="5.5" fill="rgb(247,247,247)"/><rect x="690.4" y="206.1" width="28.1" height="5.5" fill="rgb(244,244,244)"/><rect x="723.0" y="206.1" width="13.4" height="5.5" fill="rgb(240,240,240)"/><rect x="742.0" y="206.1" width="20.0" height="5.5" fill="rgb(240,240,240)"/><rect x="147.7" y="217.3" width="7.0" height="5.5" fill="rgb(247,247,247)"/><rect x="161.1" y="217.3" width="8.9" height="5.5" fill="rgb(246,246,246)"/><rect x="176.5" y="217.3" width="10.6" height="5.5" fill="rgb(247,247,247)"/><rect x="193.6" y="217.3" width="13.4" height="5.5" fill="rgb(242,242,242)"/><rect x="214.5" y="217.3" width="44.4" height="5.5" fill="rgb(240,240,240)"/><rect x="264.4" y="217.3" width="17.8" height="5.5" fill="rgb(244,244,244)"/><rect x="289.7" y="217.3" width="15.5" height="5.5" fill="rgb(245,245,245)"/><rect x="309.3" y="217.3" width="8.0" height="5.5" fill="rgb(240,240,240)"/><rect x="324.6" y="217.3" width="41.2" height="5.5" fill="rgb(246,246,246)"/><rect x="371.5" y="217.3" width="8.6" height="5.5" fill="rgb(242,242,242)"/><rect x="386.0" y="217.3" width="40.8" height="5.5" fill="rgb(241,241,241)"/><rect x="433.4" y="217.3" width="23.2" height="5.5" fill="rgb(240,240,240)"/><rect x="462.3" y="217.3" width="8.6" height="5.5" fill="rgb(241,241,241)"/><rect x="478.8" y="217.3" width="10.6" height="5.5" fill="rgb(241,241,241)"/><rect x="494.0" y="217.3" width="7.3" height="5.5" fill="rgb(243,243,243)"/><rect x="507.0" y="217.3" width="18.7" height="5.5" fill="rgb(245,245,245)"/><rect x="532.8" y="217.3" width="17.5" height="5.5" fill="rgb(241,241,241)"/><rect x="555.5" y="217.3" width="47.2" height="5.5" fill="rgb(244,244,244)"/><rect x="610.4" y="217.3" width="8.7" height="5.5" fill="rgb(240,240,240)"/><rect x="623.3" y="217.3" width="11.5" height="5.5" fill="rgb(244,244,244)"/><rect x="641.7" y="217.3" width="18.9" height="5.5" fill="rgb(247,247,247)"/><rect x="667.1" y="217.3" width="30.3" height="5.5" fill="rgb(247,247,247)"/><rect x="703.3" y="217.3" width="13.7" height="5.5" fill="rgb(241,241,241)"/><rect x="722.4" y="217.3" width="16.8" height="5.5" fill="rgb(246,246,246)"/><rect x="745.2" y="217.3" width="16.8" height="5.5" fill="rgb(245,245,245)"/><rect x="147.4" y="228.5" width="36.7" height="5.5" fill="rgb(240,240,240)"/><rect x="191.4" y="228.5" width="26.9" height="5.5" fill="rgb(243,243,243)"/><rect x="223.8" y="228.5" width="41.6" height="5.5" fill="rgb(243,243,243)"/><rect x="272.7" y="228.5" width="28.0" height="5.5" fill="rgb(245,245,245)"/><rect x="305.7" y="228.5" width="34.5" height="5.5" fill="rgb(240,240,240)"/><rect x="345.3" y="228.5" width="18.0" height="5.5" fill="rgb(242,242,242)"/><rect x="368.4" y="228.5" width="45.1" height="5.5" fill="rgb(241,241,241)"/><rect x="419.7" y="228.5" width="53.7" height="5.5" fill="rgb(243,243,243)"/><rect x="480.5" y="228.5" width="18.5" height="5.5" fill="rgb(240,240,240)"/><rect x="505.7" y="228.5" width="52.0" height="5.5" fill="rgb(244,244,244)"/><rect x="564.1" y="228.5" width="8.9" height="5.5" fill="rgb(247,247,247)"/><rect x="579.1" y="228.5" width="35.5" height="5.5" fill="rgb(243,243,243)"/><rect x="620.2" y="228.5" width="30.0" height="5.5" fill="rgb(245,245,245)"/><rect x="656.1" y="228.5" width="17.5" height="5.5" fill="rgb(243,243,243)"/><rect x="678.0" y="228.5" width="24.6" height="5.5" fill="rgb(245,245,245)"/><rect x="708.2" y="228.5" width="14.4" height="5.5" fill="rgb(247,247,247)"/><rect x="728.1" y="228.5" width="11.4" height="5.5" fill="rgb(247,247,247)"/><rect x="746.6" y="228.5" width="14.8" height="5.5" fill="rgb(240,240,240)"/><rect x="150.1" y="239.7" width="6.7" height="5.5" fill="rgb(243,243,243)"/><rect x="164.8" y="239.7" width="49.7" height="5.5" fill="rgb(243,243,243)"/><rect x="219.5" y="239.7" width="25.2" height="5.5" fill="rgb(247,247,247)"/><rect x="251.8" y="239.7" width="14.4" height="5.5" fill="rgb(240,240,240)"/><rect x="271.6" y="239.7" width="15.2" height="5.5" fill="rgb(240,240,240)"/><rect x="291.0" y="239.7" width="36.7" height="5.5" fill="rgb(247,247,247)"/><rect x="333.7" y="239.7" width="13.7" height="5.5" fill="rgb(246,246,246)"/><rect x="355.1" y="239.7" width="10.8" height="5.5" fill="rgb(243,243,243)"/><rect x="372.5" y="239.7" width="34.9" height="5.5" fill="rgb(242,242,242)"/><rect x="412.9" y="239.7" width="23.9" height="5.5" fill="rgb(243,243,243)"/><rect x="441.5" y="239.7" width="30.6" height="5.5" fill="rgb(240,240,240)"/><rect x="479.7" y="239.7" width="9.1" height="5.5" fill="rgb(240,240,240)"/><rect x="493.9" y="239.7" width="39.5" height="5.5" fill="rgb(242,242,242)"/><rect x="538.6" y="239.7" width="9.4" height="5.5" fill="rgb(244,244,244)"/><rect x="554.4" y="239.7" width="53.0" height="5.5" fill="rgb(241,241,241)"/><rect x="613.2" y="239.7" width="28.9" height="5.5" fill="rgb(241,241,241)"/><rect x="647.6" y="239.7" width="34.7" height="5.5" fill="rgb(243,243,243)"/><rect x="689.5" y="239.7" width="7.9" height="5.5" fill="rgb(243,243,243)"/><rect x="704.6" y="239.7" width="18.7" height="5.5" fill="rgb(243,243,243)"/><rect x="727.7" y="239.7" width="34.3" height="5.5" fill="rgb(242,242,242)"/><rect x="152.7" y="250.9" width="45.5" height="5.5" fill="rgb(241,241,241)"/><rect x="204.0" y="250.9" width="29.7" height="5.5" fill="rgb(243,243,243)"/><rect x="239.7" y="250.9" width="27.4" height="5.5" fill="rgb(243,243,243)"/><rect x="274.0" y="250.9" width="17.4" height="5.5" fill="rgb(242,242,242)"/><rect x="297.2" y="250.9" width="14.5" height="5.5" fill="rgb(246,246,246)"/><rect x="316.7" y="250.9" width="7.3" height="5.5" fill="rgb(244,244,244)"/><rect x="329.3" y="250.9" width="14.5" height="5.5" fill="rgb(241,241,241)"/><rect x="349.0" y="250.9" width="40.6" height="5.5" fill="rgb(240,240,240)"/><rect x="396.1" y="250.9" width="20.5" height="5.5" fill="rgb(244,244,244)"/><rect x="421.1" y="250.9" width="23.8" height="5.5" fill="rgb(246,246,246)"/><rect x="452.8" y="250.9" width="23.4" height="5.5" fill="rgb(241,241,241)"/><rect x="481.8" y="250.9" width="46.3" height="5.5" fill="rgb(240,240,240)"/><rect x="535.4" y="250.9" width="22.3" height="5.5" fill="rgb(240,240,240)"/><rect x="563.5" y="250.9" width="32.1" height="5.5" fill="rgb(247,247,247)"/><rect x="599.7" y="250.9" width="22.7" height="5.5" fill="rgb(246,246,246)"/><rect x="626.5" y="250.9" width="35.5" height="5.5" fill="rgb(242,242,242)"/><rect x="666.6" y="250.9" width="16.1" height="5.5" fill="rgb(243,243,243)"/><rect x="689.6" y="250.9" width="20.8" height="5.5" fill="rgb(241,241,241)"/><rect x="717.9" y="250.9" width="44.1" height="5.5" fill="rgb(242,242,242)"/><rect x="150.7" y="262.1" width="20.7" height="5.5" fill="rgb(243,243,243)"/><rect x="175.4" y="262.1" width="45.5" height="5.5" fill="rgb(240,240,240)"/><rect x="226.9" y="262.1" width="29.9" height="5.5" fill="rgb(247,247,247)"/><rect x="261.2" y="262.1" width="46.6" height="5.5" fill="rgb(247,247,247)"/><rect x="312.3" y="262.1" width="23.4" height="5.5" fill="rgb(245,245,245)"/><rect x="339.8" y="262.1" width="33.0" height="5.5" fill="rgb(240,240,240)"/><rect x="378.2" y="262.1" width="57.0" height="5.5" fill="rgb(241,241,241)"/><rect x="439.7" y="262.1" width="22.5" height="5.5" fill="rgb(245,245,245)"/><rect x="469.3" y="262.1" width="41.2" height="5.5" fill="rgb(240,240,240)"/><rect x="515.7" y="262.1" width="14.2" height="5.5" fill="rgb(247,247,247)"/><rect x="535.7" y="262.1" width="8.1" height="5.5" fill="rgb(242,242,242)"/><rect x="547.8" y="262.1" width="10.7" height="5.5" fill="rgb(242,242,242)"/><rect x="563.2" y="262.1" width="23.4" height="5.5" fill="rgb(240,240,240)"/><rect x="590.7" y="262.1" width="18.1" height="5.5" fill="rgb(247,247,247)"/><rect x="614.8" y="262.1" width="40.4" height="5.5" fill="rgb(241,241,241)"/><rect x="662.1" y="262.1" width="7.3" height="5.5" fill="rgb(247,247,247)"/><rect x="675.3" y="262.1" width="21.9" height="5.5" fill="rgb(241,241,241)"/><rect x="702.9" y="262.1" width="16.3" height="5.5" fill="rgb(243,243,243)"/><rect x="726.6" y="262.1" width="17.1" height="5.5" fill="rgb(247,247,247)"/><rect x="750.7" y="262.1" width="11.3" height="5.5" fill="rgb(240,240,240)"/><rect x="149.3" y="273.3" width="41.6" height="5.5" fill="rgb(240,240,240)"/><rect x="196.5" y="273.3" width="8.9" height="5.5" fill="rgb(245,245,245)"/><rect x="211.0" y="273.3" width="34.8" height="5.5" fill="rgb(245,245,245)"/><rect x="253.0" y="273.3" width="7.4" height="5.5" fill="rgb(242,242,242)"/><rect x="268.2" y="273.3" width="28.8" height="5.5" fill="rgb(246,246,246)"/><rect x="303.7" y="273.3" width="7.6" height="5.5" fill="rgb(242,242,242)"/><rect x="315.5" y="273.3" width="35.2" height="5.5" fill="rgb(240,240,240)"/><rect x="355.6" y="273.3" width="47.5" height="5.5" fill="rgb(247,247,247)"/><rect x="409.7" y="273.3" width="6.5" height="5.5" fill="rgb(244,244,244)"/><rect x="423.9" y="273.3" width="27.3" height="5.5" fill="rgb(240,240,240)"/><rect x="457.7" y="273.3" width="22.1" height="5.5" fill="rgb(240,240,240)"/><rect x="485.5" y="273.3" width="7.3" height="5.5" fill="rgb(244,244,244)"/><rect x="498.2" y="273.3" width="13.6" height="5.5" fill="rgb(244,244,244)"/><rect x="516.1" y="273.3" width="15.6" height="5.5" fill="rgb(242,242,242)"/><rect x="539.3" y="273.3" width="41.2" height="5.5" fill="rgb(244,244,244)"/><rect x="585.5" y="273.3" width="13.2" height="5.5" fill="rgb(244,244,244)"/><rect x="606.0" y="273.3" width="21.2" height="5.5" fill="rgb(243,243,243)"/><rect x="633.4" y="273.3" width="31.5" height="5.5" fill="rgb(244,244,244)"/><rect x="671.3" y="273.3" width="54.1" height="5.5" fill="rgb(240,240,240)"/><rect x="730.4" y="273.3" width="17.5" height="5.5" fill="rgb(246,246,246)"/><rect x="755.8" y="273.3" width="6.2" height="5.5" fill="rgb(245,245,245)"/><rect x="152.7" y="284.5" width="32.7" height="5.5" fill="rgb(247,247,247)"/><rect x="190.5" y="284.5" width="18.4" height="5.5" fill="rgb(240,240,240)"/><rect x="213.5" y="284.5" width="12.5" height="5.5" fill="rgb(245,245,245)"/><rect x="231.8" y="284.5" width="8.1" height="5.5" fill="rgb(247,247,247)"/><rect x="245.3" y="284.5" width="12.1" height="5.5" fill="rgb(242,242,242)"/><rect x="263.0" y="284.5" width="27.4" height="5.5" fill="rgb(243,243,243)"/><rect x="296.9" y="284.5" width="29.3" height="5.5" fill="rgb(241,241,241)"/><rect x="333.2" y="284.5" width="43.6" height="5.5" fill="rgb(242,242,242)"/><rect x="382.4" y="284.5" width="9.6" height="5.5" fill="rgb(241,241,241)"/><rect x="398.0" y="284.5" width="15.5" height="5.5" fill="rgb(244,244,244)"/><rect x="421.0" y="284.5" width="11.4" height="5.5" fill="rgb(247,247,247)"/><rect x="439.2" y="284.5" width="28.3" height="5.5" fill="rgb(244,244,244)"/><rect x="472.9" y="284.5" width="42.4" height="5.5" fill="rgb(240,240,240)"/><rect x="522.4" y="284.5" width="45.7" height="5.5" fill="rgb(244,244,244)"/><rect x="572.9" y="284.5" width="29.2" height="5.5" fill="rgb(246,246,246)"/><rect x="608.3" y="284.5" width="16.7" height="5.5" fill="rgb(245,245,245)"/><rect x="630.3" y="284.5" width="23.7" height="5.5" fill="rgb(243,243,243)"/><rect x="661.9" y="284.5" width="6.5" height="5.5" fill="rgb(244,244,244)"/><rect x="674.6" y="284.5" width="44.2" height="5.5" fill="rgb(244,244,244)"/><rect x="724.9" y="284.5" width="37.1" height="5.5" fill="rgb(246,246,246)"/><rect x="149.1" y="295.7" width="31.4" height="5.5" fill="rgb(240,240,240)"/><rect x="187.3" y="295.7" width="16.8" height="5.5" fill="rgb(245,245,245)"/><rect x="210.0" y="295.7" width="18.4" height="5.5" fill="rgb(246,246,246)"/><rect x="234.4" y="295.7" width="53.1" height="5.5" fill="rgb(245,245,245)"/><rect x="294.3" y="295.7" width="10.4" height="5.5" fill="rgb(245,245,245)"/><rect x="310.2" y="295.7" width="13.6" height="5.5" fill="rgb(242,242,242)"/><rect x="328.2" y="295.7" width="28.0" height="5.5" fill="rgb(246,246,246)"/><rect x="362.7" y="295.7" width="29.3" height="5.5" fill="rgb(243,243,243)"/><rect x="398.0" y="295.7" width="19.3" height="5.5" fill="rgb(240,240,240)"/><rect x="423.8" y="295.7" width="11.3" height="5.5" fill="rgb(240,240,240)"/><rect x="441.9" y="295.7" width="8.9" height="5.5" fill="rgb(244,244,244)"/><rect x="457.7" y="295.7" width="9.3" height="5.5" fill="rgb(246,246,246)"/><rect x="474.4" y="295.7" width="8.5" height="5.5" fill="rgb(243,243,243)"/><rect x="487.6" y="295.7" width="29.9" height="5.5" fill="rgb(242,242,242)"/><rect x="523.8" y="295.7" width="41.6" height="5.5" fill="rgb(242,242,242)"/><rect x="570.0" y="295.7" width="9.7" height="5.5" fill="rgb(241,241,241)"/><rect x="584.4" y="295.7" width="54.2" height="5.5" fill="rgb(246,246,246)"/><rect x="645.9" y="295.7" width="8.5" height="5.5" fill="rgb(245,245,245)"/><rect x="658.9" y="295.7" width="18.8" height="5.5" fill="rgb(242,242,242)"/><rect x="681.9" y="295.7" width="13.7" height="5.5" fill="rgb(241,241,241)"/><rect x="701.0" y="295.7" width="50.4" height="5.5" fill="rgb(240,240,240)"/><rect x="755.6" y="295.7" width="6.4" height="5.5" fill="rgb(240,240,240)"/><rect x="150.7" y="306.9" width="17.8" height="5.5" fill="rgb(242,242,242)"/><rect x="176.2" y="306.9" width="14.8" height="5.5" fill="rgb(247,247,247)"/><rect x="196.3" y="306.9" width="30.8" height="5.5" fill="rgb(247,247,247)"/><rect x="235.0" y="306.9" width="10.8" height="5.5" fill="rgb(246,246,246)"/><rect x="252.4" y="306.9" width="19.3" height="5.5" fill="rgb(246,246,246)"/><rect x="279.2" y="306.9" width="38.8" height="5.5" fill="rgb(243,243,243)"/><rect x="322.4" y="306.9" width="15.1" height="5.5" fill="rgb(242,242,242)"/><rect x="341.5" y="306.9" width="24.9" height="5.5" fill="rgb(245,245,245)"/><rect x="370.9" y="306.9" width="37.4" height="5.5" fill="rgb(241,241,241)"/><rect x="416.1" y="306.9" width="45.2" height="5.5" fill="rgb(245,245,245)"/><rect x="467.6" y="306.9" width="35.1" height="5.5" fill="rgb(244,244,244)"/><rect x="508.0" y="306.9" width="32.6" height="5.5" fill="rgb(240,240,240)"/><rect x="545.9" y="306.9" width="14.3" height="5.5" fill="rgb(242,242,242)"/><rect x="564.6" y="306.9" width="26.5" height="5.5" fill="rgb(242,242,242)"/><rect x="597.3" y="306.9" width="54.5" height="5.5" fill="rgb(243,243,243)"/><rect x="656.4" y="306.9" width="28.4" height="5.5" fill="rgb(246,246,246)"/><rect x="690.3" y="306.9" width="18.4" height="5.5" fill="rgb(247,247,247)"/><rect x="714.7" y="306.9" width="22.9" height="5.5" fill="rgb(242,242,242)"/><rect x="745.3" y="306.9" width="16.7" height="5.5" fill="rgb(247,247,247)"/><rect x="149.2" y="318.1" width="19.2" height="5.5" fill="rgb(243,243,243)"/><rect x="172.9" y="318.1" width="12.9" height="5.5" fill="rgb(241,241,241)"/><rect x="192.0" y="318.1" width="28.5" height="5.5" fill="rgb(246,246,246)"/><rect x="224.5" y="318.1" width="14.8" height="5.5" fill="rgb(246,246,246)"/><rect x="246.2" y="318.1" width="17.8" height="5.5" fill="rgb(243,243,243)"/><rect x="269.2" y="318.1" width="9.9" height="5.5" fill="rgb(245,245,245)"/><rect x="286.4" y="318.1" width="22.8" height="5.5" fill="rgb(244,244,244)"/><rect x="313.5" y="318.1" width="22.1" height="5.5" fill="rgb(246,246,246)"/><rect x="340.8" y="318.1" width="45.5" height="5.5" fill="rgb(247,247,247)"/><rect x="393.4" y="318.1" width="18.8" height="5.5" fill="rgb(242,242,242)"/><rect x="416.3" y="318.1" width="37.1" height="5.5" fill="rgb(240,240,240)"/><rect x="460.0" y="318.1" width="43.2" height="5.5" fill="rgb(246,246,246)"/><rect x="508.6" y="318.1" width="10.5" height="5.5" fill="rgb(241,241,241)"/><rect x="524.1" y="318.1" width="21.7" height="5.5" fill="rgb(240,240,240)"/><rect x="551.5" y="318.1" width="15.6" height="5.5" fill="rgb(244,244,244)"/><rect x="571.6" y="318.1" width="8.2" height="5.5" fill="rgb(242,242,242)"/><rect x="586.1" y="318.1" width="20.6" height="5.5" fill="rgb(244,244,244)"/><rect x="614.3" y="318.1" width="37.6" height="5.5" fill="rgb(241,241,241)"/><rect x="659.2" y="318.1" width="30.2" height="5.5" fill="rgb(240,240,240)"/><rect x="697.3" y="318.1" width="9.8" height="5.5" fill="rgb(245,245,245)"/><rect x="711.9" y="318.1" width="35.2" height="5.5" fill="rgb(241,241,241)"/><rect x="752.8" y="318.1" width="9.2" height="5.5" fill="rgb(243,243,243)"/><rect x="147.5" y="329.3" width="39.1" height="5.5" fill="rgb(245,245,245)"/><rect x="193.4" y="329.3" width="48.2" height="5.5" fill="rgb(243,243,243)"/><rect x="247.3" y="329.3" width="15.9" height="5.5" fill="rgb(243,243,243)"/><rect x="267.4" y="329.3" width="22.6" height="5.5" fill="rgb(242,242,242)"/><rect x="297.9" y="329.3" width="20.4" height="5.5" fill="rgb(243,243,243)"/><rect x="326.1" y="329.3" width="15.1" height="5.5" fill="rgb(246,246,246)"/><rect x="345.5" y="329.3" width="22.2" height="5.5" fill="rgb(247,247,247)"/><rect x="374.4" y="329.3" width="21.6" height="5.5" fill="rgb(240,240,240)"/><rect x="402.1" y="329.3" width="41.0" height="5.5" fill="rgb(245,245,245)"/><rect x="449.9" y="329.3" width="18.5" height="5.5" fill="rgb(242,242,242)"/><rect x="474.7" y="329.3" width="18.7" height="5.5" fill="rgb(241,241,241)"/><rect x="499.6" y="329.3" width="17.1" height="5.5" fill="rgb(242,242,242)"/><rect x="523.1" y="329.3" width="54.5" height="5.5" fill="rgb(246,246,246)"/><rect x="584.9" y="329.3" width="12.9" height="5.5" fill="rgb(240,240,240)"/><rect x="603.3" y="329.3" width="16.3" height="5.5" fill="rgb(244,244,244)"/><rect x="624.9" y="329.3" width="13.0" height="5.5" fill="rgb(247,247,247)"/><rect x="645.7" y="329.3" width="14.9" height="5.5" fill="rgb(247,247,247)"/><rect x="666.8" y="329.3" width="22.5" height="5.5" fill="rgb(241,241,241)"/><rect x="693.6" y="329.3" width="57.4" height="5.5" fill="rgb(247,247,247)"/><rect x="755.3" y="329.3" width="6.7" height="5.5" fill="rgb(244,244,244)"/><rect x="149.9" y="340.5" width="39.8" height="5.5" fill="rgb(245,245,245)"/><rect x="193.8" y="340.5" width="12.7" height="5.5" fill="rgb(244,244,244)"/><rect x="213.1" y="340.5" width="10.3" height="5.5" fill="rgb(240,240,240)"/><rect x="227.5" y="340.5" width="45.4" height="5.5" fill="rgb(244,244,244)"/><rect x="278.4" y="340.5" width="13.5" height="5.5" fill="rgb(244,244,244)"/><rect x="298.8" y="340.5" width="30.5" height="5.5" fill="rgb(245,245,245)"/><rect x="334.5" y="340.5" width="27.3" height="5.5" fill="rgb(245,245,245)"/><rect x="369.2" y="340.5" width="23.3" height="5.5" fill="rgb(240,240,240)"/><rect x="396.9" y="340.5" width="46.5" height="5.5" fill="rgb(243,243,243)"/><rect x="449.4" y="340.5" width="52.4" height="5.5" fill="rgb(244,244,244)"/><rect x="508.2" y="340.5" width="10.3" height="5.5" fill="rgb(243,243,243)"/><rect x="523.2" y="340.5" width="50.6" height="5.5" fill="rgb(246,246,246)"/><rect x="578.2" y="340.5" width="9.1" height="5.5" fill="rgb(247,247,247)"/><rect x="592.0" y="340.5" width="25.6" height="5.5" fill="rgb(246,246,246)"/><rect x="622.2" y="340.5" width="12.8" height="5.5" fill="rgb(246,246,246)"/><rect x="642.6" y="340.5" width="11.7" height="5.5" fill="rgb(242,242,242)"/><rect x="661.9" y="340.5" width="15.2" height="5.5" fill="rgb(240,240,240)"/><rect x="682.9" y="340.5" width="32.9" height="5.5" fill="rgb(247,247,247)"/><rect x="720.1" y="340.5" width="32.2" height="5.5" fill="rgb(246,246,246)"/><rect x="152.5" y="351.7" width="19.0" height="5.5" fill="rgb(241,241,241)"/><rect x="178.7" y="351.7" width="8.7" height="5.5" fill="rgb(245,245,245)"/><rect x="193.9" y="351.7" width="26.7" height="5.5" fill="rgb(246,246,246)"/><rect x="228.4" y="351.7" width="51.0" height="5.5" fill="rgb(242,242,242)"/><rect x="284.6" y="351.7" width="32.4" height="5.5" fill="rgb(240,240,240)"/><rect x="324.4" y="351.7" width="21.4" height="5.5" fill="rgb(247,247,247)"/><rect x="352.5" y="351.7" width="17.0" height="5.5" fill="rgb(245,245,245)"/><rect x="375.8" y="351.7" width="37.8" height="5.5" fill="rgb(243,243,243)"/><rect x="419.8" y="351.7" width="36.2" height="5.5" fill="rgb(243,243,243)"/><rect x="460.7" y="351.7" width="20.4" height="5.5" fill="rgb(241,241,241)"/><rect x="486.0" y="351.7" width="27.6" height="5.5" fill="rgb(243,243,243)"/><rect x="519.7" y="351.7" width="28.2" height="5.5" fill="rgb(243,243,243)"/><rect x="554.1" y="351.7" width="20.3" height="5.5" fill="rgb(241,241,241)"/><rect x="581.3" y="351.7" width="13.7" height="5.5" fill="rgb(241,241,241)"/><rect x="602.2" y="351.7" width="18.3" height="5.5" fill="rgb(241,241,241)"/><rect x="627.0" y="351.7" width="11.8" height="5.5" fill="rgb(246,246,246)"/><rect x="645.0" y="351.7" width="20.5" height="5.5" fill="rgb(241,241,241)"/><rect x="670.1" y="351.7" width="7.7" height="5.5" fill="rgb(240,240,240)"/><rect x="683.3" y="351.7" width="8.6" height="5.5" fill="rgb(243,243,243)"/><rect x="697.8" y="351.7" width="13.0" height="5.5" fill="rgb(246,246,246)"/><rect x="718.4" y="351.7" width="12.6" height="5.5" fill="rgb(243,243,243)"/><rect x="737.2" y="351.7" width="24.8" height="5.5" fill="rgb(245,245,245)"/><rect x="151.4" y="362.9" width="9.0" height="5.5" fill="rgb(241,241,241)"/><rect x="165.4" y="362.9" width="34.8" height="5.5" fill="rgb(240,240,240)"/><rect x="207.5" y="362.9" width="26.9" height="5.5" fill="rgb(245,245,245)"/><rect x="241.6" y="362.9" width="9.8" height="5.5" fill="rgb(243,243,243)"/><rect x="256.4" y="362.9" width="21.6" height="5.5" fill="rgb(240,240,240)"/><rect x="285.3" y="362.9" width="40.6" height="5.5" fill="rgb(240,240,240)"/><rect x="331.8" y="362.9" width="13.4" height="5.5" fill="rgb(242,242,242)"/><rect x="349.9" y="362.9" width="29.9" height="5.5" fill="rgb(246,246,246)"/><rect x="387.1" y="362.9" width="26.4" height="5.5" fill="rgb(244,244,244)"/><rect x="421.3" y="362.9" width="6.5" height="5.5" fill="rgb(242,242,242)"/><rect x="433.7" y="362.9" width="55.2" height="5.5" fill="rgb(240,240,240)"/><rect x="493.2" y="362.9" width="45.5" height="5.5" fill="rgb(242,242,242)"/><rect x="545.4" y="362.9" width="46.0" height="5.5" fill="rgb(241,241,241)"/><rect x="596.8" y="362.9" width="18.5" height="5.5" fill="rgb(242,242,242)"/><rect x="621.7" y="362.9" width="7.1" height="5.5" fill="rgb(245,245,245)"/><rect x="635.7" y="362.9" width="33.0" height="5.5" fill="rgb(246,246,246)"/><rect x="676.4" y="362.9" width="25.7" height="5.5" fill="rgb(247,247,247)"/><rect x="707.4" y="362.9" width="7.2" height="5.5" fill="rgb(240,240,240)"/><rect x="721.1" y="362.9" width="14.5" height="5.5" fill="rgb(244,244,244)"/><rect x="739.9" y="362.9" width="22.1" height="5.5" fill="rgb(242,242,242)"/><rect x="147.2" y="374.1" width="13.8" height="5.5" fill="rgb(246,246,246)"/><rect x="167.5" y="374.1" width="11.3" height="5.5" fill="rgb(244,244,244)"/><rect x="186.0" y="374.1" width="23.0" height="5.5" fill="rgb(242,242,242)"/><rect x="215.7" y="374.1" width="30.8" height="5.5" fill="rgb(245,245,245)"/><rect x="253.5" y="374.1" width="18.8" height="5.5" fill="rgb(246,246,246)"/><rect x="277.7" y="374.1" width="34.2" height="5.5" fill="rgb(247,247,247)"/><rect x="317.9" y="374.1" width="22.5" height="5.5" fill="rgb(245,245,245)"/><rect x="345.0" y="374.1" width="16.1" height="5.5" fill="rgb(247,247,247)"/><rect x="366.6" y="374.1" width="41.1" height="5.5" fill="rgb(244,244,244)"/><rect x="415.4" y="374.1" width="10.3" height="5.5" fill="rgb(244,244,244)"/><rect x="430.7" y="374.1" width="26.5" height="5.5" fill="rgb(243,243,243)"/><rect x="463.6" y="374.1" width="12.4" height="5.5" fill="rgb(244,244,244)"/><rect x="482.3" y="374.1" width="45.3" height="5.5" fill="rgb(246,246,246)"/><rect x="534.5" y="374.1" width="13.6" height="5.5" fill="rgb(245,245,245)"/><rect x="555.7" y="374.1" width="30.1" height="5.5" fill="rgb(240,240,240)"/><rect x="592.9" y="374.1" width="23.3" height="5.5" fill="rgb(240,240,240)"/><rect x="621.0" y="374.1" width="39.2" height="5.5" fill="rgb(244,244,244)"/><rect x="667.6" y="374.1" width="10.5" height="5.5" fill="rgb(240,240,240)"/><rect x="686.0" y="374.1" width="6.7" height="5.5" fill="rgb(245,245,245)"/><rect x="699.6" y="374.1" width="7.0" height="5.5" fill="rgb(240,240,240)"/><rect x="713.1" y="374.1" width="7.1" height="5.5" fill="rgb(245,245,245)"/><rect x="727.7" y="374.1" width="8.5" height="5.5" fill="rgb(246,246,246)"/><rect x="742.6" y="374.1" width="19.4" height="5.5" fill="rgb(246,246,246)"/><rect x="147.5" y="385.3" width="35.5" height="5.5" fill="rgb(246,246,246)"/><rect x="188.1" y="385.3" width="55.2" height="5.5" fill="rgb(240,240,240)"/><rect x="251.0" y="385.3" width="26.3" height="5.5" fill="rgb(245,245,245)"/><rect x="281.9" y="385.3" width="6.9" height="5.5" fill="rgb(242,242,242)"/><rect x="294.9" y="385.3" width="11.3" height="5.5" fill="rgb(245,245,245)"/><rect x="311.9" y="385.3" width="17.0" height="5.5" fill="rgb(245,245,245)"/><rect x="333.9" y="385.3" width="29.3" height="5.5" fill="rgb(247,247,247)"/><rect x="370.2" y="385.3" width="27.6" height="5.5" fill="rgb(247,247,247)"/><rect x="404.0" y="385.3" width="32.3" height="5.5" fill="rgb(244,244,244)"/><rect x="440.8" y="385.3" width="8.2" height="5.5" fill="rgb(241,241,241)"/><rect x="455.6" y="385.3" width="27.5" height="5.5" fill="rgb(243,243,243)"/><rect x="488.7" y="385.3" width="14.1" height="5.5" fill="rgb(242,242,242)"/><rect x="507.3" y="385.3" width="20.4" height="5.5" fill="rgb(242,242,242)"/><rect x="532.8" y="385.3" width="35.0" height="5.5" fill="rgb(242,242,242)"/><rect x="575.3" y="385.3" width="16.2" height="5.5" fill="rgb(245,245,245)"/><rect x="598.6" y="385.3" width="19.5" height="5.5" fill="rgb(247,247,247)"/><rect x="623.0" y="385.3" width="37.1" height="5.5" fill="rgb(246,246,246)"/><rect x="666.0" y="385.3" width="35.7" height="5.5" fill="rgb(240,240,240)"/><rect x="706.1" y="385.3" width="6.6" height="5.5" fill="rgb(246,246,246)"/><rect x="719.4" y="385.3" width="26.4" height="5.5" fill="rgb(246,246,246)"/><rect x="751.4" y="385.3" width="10.6" height="5.5" fill="rgb(243,243,243)"/><rect x="147.1" y="396.5" width="35.9" height="5.5" fill="rgb(245,245,245)"/><rect x="187.8" y="396.5" width="42.3" height="5.5" fill="rgb(244,244,244)"/><rect x="237.6" y="396.5" width="42.6" height="5.5" fill="rgb(242,242,242)"/><rect x="286.1" y="396.5" width="30.7" height="5.5" fill="rgb(242,242,242)"/><rect x="324.1" y="396.5" width="21.7" height="5.5" fill="rgb(240,240,240)"/><rect x="351.8" y="396.5" width="17.3" height="5.5" fill="rgb(247,247,247)"/><rect x="373.9" y="396.5" width="9.2" height="5.5" fill="rgb(243,243,243)"/><rect x="390.5" y="396.5" width="26.2" height="5.5" fill="rgb(247,247,247)"/><rect x="421.4" y="396.5" width="19.2" height="5.5" fill="rgb(244,244,244)"/><rect x="447.4" y="396.5" width="10.3" height="5.5" fill="rgb(240,240,240)"/><rect x="462.2" y="396.5" width="22.4" height="5.5" fill="rgb(245,245,245)"/><rect x="489.0" y="396.5" width="15.8" height="5.5" fill="rgb(246,246,246)"/><rect x="509.1" y="396.5" width="33.8" height="5.5" fill="rgb(246,246,246)"/><rect x="550.5" y="396.5" width="8.3" height="5.5" fill="rgb(243,243,243)"/><rect x="565.9" y="396.5" width="6.5" height="5.5" fill="rgb(243,243,243)"/><rect x="578.7" y="396.5" width="13.1" height="5.5" fill="rgb(240,240,240)"/><rect x="599.8" y="396.5" width="26.4" height="5.5" fill="rgb(241,241,241)"/><rect x="630.7" y="396.5" width="57.0" height="5.5" fill="rgb(246,246,246)"/><rect x="691.7" y="396.5" width="21.5" height="5.5" fill="rgb(242,242,242)"/><rect x="719.7" y="396.5" width="12.1" height="5.5" fill="rgb(247,247,247)"/><rect x="739.7" y="396.5" width="11.3" height="5.5" fill="rgb(243,243,243)"/><rect x="758.4" y="396.5" width="3.6" height="5.5" fill="rgb(244,244,244)"/></g>
<polyline points="17.5,121 17.5,215.7 55,215.7" fill="none" stroke="#4d4d4d" stroke-width="2.25" stroke-linejoin="miter"/><path transform="translate(56,215.7) rotate(0)" d="M-10.5,-5.8 Q-5,-1.5 0,0 Q-5,1.5 -10.5,5.8" fill="none" stroke="#4d4d4d" stroke-width="2" stroke-linejoin="round" stroke-linecap="round"/><path transform="translate(56,215.7) rotate(0)" d="M0.5,0 L-7,-2.6 L-5,0 L-7,2.6Z" fill="#4d4d4d"/><rect x="56.7" y="177.5" width="105.80" height="76.50" fill="none" stroke="#4d4d4d" stroke-width="2.25"/><polyline points="162.5,216 204,216" fill="none" stroke="#4d4d4d" stroke-width="2.25" stroke-linejoin="miter"/><path transform="translate(205,216) rotate(0)" d="M-10.5,-5.8 Q-5,-1.5 0,0 Q-5,1.5 -10.5,5.8" fill="none" stroke="#4d4d4d" stroke-width="2" stroke-linejoin="round" stroke-linecap="round"/><path transform="translate(205,216) rotate(0)" d="M0.5,0 L-7,-2.6 L-5,0 L-7,2.6Z" fill="#4d4d4d"/><line x1="173.4" y1="270" x2="181.6" y2="222" stroke="#4d4d4d" stroke-width="1.7"/><path d="M182.4,217.8 L178.3,226.5 L185,227.3Z" fill="#4d4d4d"/><line x1="376" y1="210.5" x2="380.5" y2="207.5" stroke="#999" stroke-width="1"/><ellipse cx="227.2" cy="216.6" rx="21.3" ry="22.1" fill="none" stroke="#4d4d4d" stroke-width="2.3"/><line x1="212.14" y1="201.54" x2="242.26" y2="231.66" stroke="#4d4d4d" stroke-width="1.8"/><line x1="212.14" y1="231.66" x2="242.26" y2="201.54" stroke="#4d4d4d" stroke-width="1.8"/><line x1="210.5" y1="215.8" x2="220" y2="215.8" stroke="#4d4d4d" stroke-width="1.6"/><line x1="215.2" y1="210.3" x2="215.2" y2="221.3" stroke="#4d4d4d" stroke-width="1.6"/><line x1="222.5" y1="203.8" x2="231" y2="203.8" stroke="#777" stroke-width="1.6"/><line x1="222.5" y1="228.8" x2="231" y2="228.8" stroke="#555" stroke-width="1.6"/><polyline points="249,215.5 277,215.5" fill="none" stroke="#4d4d4d" stroke-width="2.25" stroke-linejoin="miter"/><path transform="translate(278,215.5) rotate(0)" d="M-10.5,-5.8 Q-5,-1.5 0,0 Q-5,1.5 -10.5,5.8" fill="none" stroke="#4d4d4d" stroke-width="2" stroke-linejoin="round" stroke-linecap="round"/><path transform="translate(278,215.5) rotate(0)" d="M0.5,0 L-7,-2.6 L-5,0 L-7,2.6Z" fill="#4d4d4d"/><rect x="278" y="176" width="114.50" height="78.00" fill="none" stroke="#4d4d4d" stroke-width="2.25"/><polyline points="392.5,215.9 425,215.9" fill="none" stroke="#4d4d4d" stroke-width="2.25" stroke-linejoin="miter"/><path transform="translate(426,215.9) rotate(0)" d="M-10.5,-5.8 Q-5,-1.5 0,0 Q-5,1.5 -10.5,5.8" fill="none" stroke="#4d4d4d" stroke-width="2" stroke-linejoin="round" stroke-linecap="round"/><path transform="translate(426,215.9) rotate(0)" d="M0.5,0 L-7,-2.6 L-5,0 L-7,2.6Z" fill="#4d4d4d"/><rect x="427" y="175.6" width="112.00" height="78.80" fill="none" stroke="#4d4d4d" stroke-width="2.25"/><polyline points="539,215 571,215" fill="none" stroke="#4d4d4d" stroke-width="2.25" stroke-linejoin="miter"/><path transform="translate(572,215) rotate(0)" d="M-10.5,-5.8 Q-5,-1.5 0,0 Q-5,1.5 -10.5,5.8" fill="none" stroke="#4d4d4d" stroke-width="2" stroke-linejoin="round" stroke-linecap="round"/><path transform="translate(572,215) rotate(0)" d="M0.5,0 L-7,-2.6 L-5,0 L-7,2.6Z" fill="#4d4d4d"/><rect x="572.4" y="175" width="111.00" height="78.50" fill="none" stroke="#4d4d4d" stroke-width="2.25"/><polyline points="683.4,215.5 717,215.5" fill="none" stroke="#4d4d4d" stroke-width="2.25" stroke-linejoin="miter"/><path transform="translate(718,215.5) rotate(0)" d="M-10.5,-5.8 Q-5,-1.5 0,0 Q-5,1.5 -10.5,5.8" fill="none" stroke="#4d4d4d" stroke-width="2" stroke-linejoin="round" stroke-linecap="round"/><path transform="translate(718,215.5) rotate(0)" d="M0.5,0 L-7,-2.6 L-5,0 L-7,2.6Z" fill="#4d4d4d"/><rect x="718" y="175" width="116.20" height="79.00" fill="none" stroke="#4d4d4d" stroke-width="2.25"/><polyline points="834.2,214.3 908,214.3" fill="none" stroke="#4d4d4d" stroke-width="2.25" stroke-linejoin="miter"/><path transform="translate(909.5,214.3) rotate(0)" d="M-10.5,-5.8 Q-5,-1.5 0,0 Q-5,1.5 -10.5,5.8" fill="none" stroke="#4d4d4d" stroke-width="2" stroke-linejoin="round" stroke-linecap="round"/><path transform="translate(909.5,214.3) rotate(0)" d="M0.5,0 L-7,-2.6 L-5,0 L-7,2.6Z" fill="#4d4d4d"/><polyline points="774.4,175 774.4,41.9 540,42.2" fill="none" stroke="#4d4d4d" stroke-width="2.25" stroke-linejoin="miter"/><path transform="translate(539,42.2) rotate(180)" d="M-10.5,-5.8 Q-5,-1.5 0,0 Q-5,1.5 -10.5,5.8" fill="none" stroke="#4d4d4d" stroke-width="2" stroke-linejoin="round" stroke-linecap="round"/><path transform="translate(539,42.2) rotate(180)" d="M0.5,0 L-7,-2.6 L-5,0 L-7,2.6Z" fill="#4d4d4d"/><rect x="427" y="4.7" width="111.00" height="75.90" fill="none" stroke="#4d4d4d" stroke-width="2.25"/><polyline points="427,42.5 227.4,43.7 227.4,192" fill="none" stroke="#4d4d4d" stroke-width="2.25" stroke-linejoin="miter"/><path transform="translate(227.4,193.5) rotate(90)" d="M-10.5,-5.8 Q-5,-1.5 0,0 Q-5,1.5 -10.5,5.8" fill="none" stroke="#4d4d4d" stroke-width="2" stroke-linejoin="round" stroke-linecap="round"/><path transform="translate(227.4,193.5) rotate(90)" d="M0.5,0 L-7,-2.6 L-5,0 L-7,2.6Z" fill="#4d4d4d"/><polyline points="775.6,254 775.6,379.5 541,379.8" fill="none" stroke="#4d4d4d" stroke-width="2.25" stroke-linejoin="miter"/><path transform="translate(540,379.8) rotate(180)" d="M-10.5,-5.8 Q-5,-1.5 0,0 Q-5,1.5 -10.5,5.8" fill="none" stroke="#4d4d4d" stroke-width="2" stroke-linejoin="round" stroke-linecap="round"/><path transform="translate(540,379.8) rotate(180)" d="M0.5,0 L-7,-2.6 L-5,0 L-7,2.6Z" fill="#4d4d4d"/><rect x="427.2" y="342.8" width="112.50" height="75.20" fill="none" stroke="#4d4d4d" stroke-width="2.25"/><polyline points="427.2,380 227.7,380 227.7,241" fill="none" stroke="#4d4d4d" stroke-width="2.25" stroke-linejoin="miter"/><path transform="translate(227.7,239.2) rotate(-90)" d="M-10.5,-5.8 Q-5,-1.5 0,0 Q-5,1.5 -10.5,5.8" fill="none" stroke="#4d4d4d" stroke-width="2" stroke-linejoin="round" stroke-linecap="round"/><path transform="translate(227.7,239.2) rotate(-90)" d="M0.5,0 L-7,-2.6 L-5,0 L-7,2.6Z" fill="#4d4d4d"/>
<text x="23.40" y="136.2" font-family="Liberation Serif" font-size="19.8" letter-spacing="0.951" fill="#4b4b4b" stroke="#4b4b4b" stroke-width="0.35">Control signal</text><text x="23.40" y="157.5" font-family="Liberation Serif" font-size="19.8" letter-spacing="1.215" fill="#4b4b4b" stroke="#4b4b4b" stroke-width="0.35">(from computer)</text><text x="72.00" y="222.9" font-family="Liberation Serif" font-size="21.5" letter-spacing="-0.127" fill="#4b4b4b" stroke="#4b4b4b" stroke-width="0.35">Receiver</text><text x="303.00" y="209.3" font-family="Liberation Serif" font-size="21.5" letter-spacing="0.216" fill="#4b4b4b" stroke="#4b4b4b" stroke-width="0.35">Control</text><text x="296.40" y="229.6" font-family="Liberation Serif" font-size="21.5" letter-spacing="0.527" fill="#4b4b4b" stroke="#4b4b4b" stroke-width="0.35">elements</text><text x="457.20" y="207.9" font-family="Liberation Serif" font-size="21.5" letter-spacing="-0.283" fill="#4b4b4b" stroke="#4b4b4b" stroke-width="0.35">Power</text><text x="445.20" y="228.9" font-family="Liberation Serif" font-size="21.5" letter-spacing="0.100" fill="#4b4b4b" stroke="#4b4b4b" stroke-width="0.35">amplifier</text><text x="596.30" y="208.7" font-family="Liberation Serif" font-size="21.5" letter-spacing="-0.512" fill="#4b4b4b" stroke="#4b4b4b" stroke-width="0.35">Braking</text><text x="598.60" y="228.5" font-family="Liberation Serif" font-size="21.5" letter-spacing="0.495" fill="#4b4b4b" stroke="#4b4b4b" stroke-width="0.35">system</text><text x="755.20" y="219.2" font-family="Liberation Serif" font-size="20" letter-spacing="0.300" fill="#4b4b4b" stroke="#4b4b4b" stroke-width="0.35">Train</text><text x="856.50" y="181.2" font-family="Liberation Serif" font-size="19.8" letter-spacing="0.303" fill="#4b4b4b" stroke="#4b4b4b" stroke-width="0.35">Actual</text><text x="842.80" y="201.3" font-family="Liberation Serif" font-size="19.8" letter-spacing="0.698" fill="#4b4b4b" stroke="#4b4b4b" stroke-width="0.35">position</text><text x="119.20" y="286.2" font-family="Liberation Serif" font-size="20.3" letter-spacing="0.311" fill="#4b4b4b" stroke="#4b4b4b" stroke-width="0.35">Desired</text><text x="118.70" y="306.8" font-family="Liberation Serif" font-size="20.3" letter-spacing="0.738" fill="#4b4b4b" stroke="#4b4b4b" stroke-width="0.35">stopping</text><text x="119.50" y="327.5" font-family="Liberation Serif" font-size="20.3" letter-spacing="0.468" fill="#4b4b4b" stroke="#4b4b4b" stroke-width="0.35">position</text><text x="451.20" y="27.2" font-family="Liberation Serif" font-size="21.5" letter-spacing="0.539" fill="#4b4b4b" stroke="#4b4b4b" stroke-width="0.35">Speed-</text><text x="437.60" y="47.8" font-family="Liberation Serif" font-size="21.5" letter-spacing="0.166" fill="#4b4b4b" stroke="#4b4b4b" stroke-width="0.35">measuring</text><text x="452.20" y="67.5" font-family="Liberation Serif" font-size="21.5" letter-spacing="0.141" fill="#4b4b4b" stroke="#4b4b4b" stroke-width="0.35">device</text><text x="442.90" y="367" font-family="Liberation Serif" font-size="21.5" letter-spacing="0.368" fill="#4b4b4b" stroke="#4b4b4b" stroke-width="0.35">Position-</text><text x="438.00" y="385.3" font-family="Liberation Serif" font-size="21.5" letter-spacing="0.091" fill="#4b4b4b" stroke="#4b4b4b" stroke-width="0.35">measuring</text><text x="453.00" y="404.2" font-family="Liberation Serif" font-size="21.5" letter-spacing="-0.219" fill="#4b4b4b" stroke="#4b4b4b" stroke-width="0.35">device</text><g transform="rotate(0.194 182 461.3)"><text x="182.20" y="461.5" font-family="Liberation Sans" font-size="19.4" letter-spacing="0.768" fill="#363636" stroke="#363636" stroke-width="0.5">Automatic</text><text x="280.20" y="461.5" font-family="Liberation Sans" font-size="19.4" letter-spacing="0.797" fill="#363636" stroke="#363636" stroke-width="0.5">position-control</text><text x="427.90" y="461.5" font-family="Liberation Sans" font-size="19.4" letter-spacing="0.652" fill="#363636" stroke="#363636" stroke-width="0.5">system</text><text x="498.80" y="461.5" font-family="Liberation Sans" font-size="19.4" letter-spacing="-0.518" fill="#363636" stroke="#363636" stroke-width="0.5">of</text><text x="519.40" y="461.5" font-family="Liberation Sans" font-size="19.4" letter-spacing="0.000" fill="#363636" stroke="#363636" stroke-width="0.5">a</text><text x="534.70" y="461.5" font-family="Liberation Sans" font-size="19.4" letter-spacing="0.645" fill="#363636" stroke="#363636" stroke-width="0.5">high-speed</text><text x="642.60" y="461.5" font-family="Liberation Sans" font-size="19.4" letter-spacing="0.402" fill="#363636" stroke="#363636" stroke-width="0.5">automated</text><text x="743.60" y="461.5" font-family="Liberation Sans" font-size="19.4" letter-spacing="0.867" fill="#363636" stroke="#363636" stroke-width="0.5">train</text><text x="790.00" y="461.5" font-family="Liberation Sans" font-size="19.4" letter-spacing="0.528" fill="#363636" stroke="#363636" stroke-width="0.5">system.</text></g><text x="635" y="428" font-family="Liberation Serif" font-size="13" fill="#e9e9e9" text-anchor="middle" letter-spacing="1.5">ure 1.2   Block diagram of an automatic train-control system.</text>
</svg>
</body></html>
